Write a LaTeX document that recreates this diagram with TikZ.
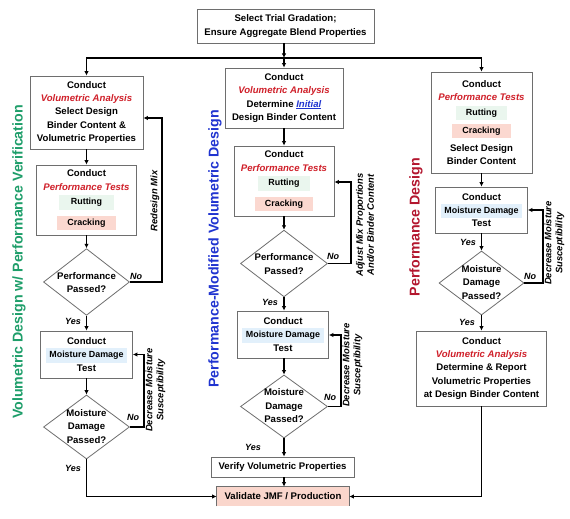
\documentclass[tikz,border=0pt]{standalone}
\usepackage{fontspec}
\setmainfont{Liberation Sans}
\usetikzlibrary{shapes.geometric,arrows.meta,calc}
\definecolor{boxgray}{HTML}{6E6E6E}
\definecolor{redtxt}{HTML}{D0202A}
\definecolor{bluetxt}{HTML}{2034D0}
\definecolor{greentitle}{HTML}{1E9E6A}
\definecolor{redtitle}{HTML}{B3162E}
\definecolor{rutbg}{HTML}{EAF6EE}
\definecolor{crkbg}{HTML}{FBD8D0}
\definecolor{moibg}{HTML}{E2F0FB}
\definecolor{valbg}{HTML}{FAD6CC}
\newcommand\hlb[3]{{\setlength\fboxsep{3pt}\colorbox{#1}{\fontsize{8.9}{10}\selectfont\hspace{#2}#3\hspace{#2}}}}
\newcommand\rd[1]{{\color{redtxt}\itshape #1}}
\newcommand\dtext[2]{\raisebox{#1}{\smash{\begin{tabular}{@{}c@{}}#2\end{tabular}}}}
\begin{document}
\begin{tikzpicture}[x=1pt,y=-1pt,
 box/.style={draw=boxgray,line width=0.8pt,align=center,inner sep=0pt,font=\bfseries\fontsize{9.6}{13.4}\selectfont,fill=white},
 dia/.style={diamond,draw=boxgray,line width=0.8pt,inner sep=0pt,font=\bfseries\fontsize{9.6}{13.4}\selectfont},
 conn/.style={line width=1.5pt,-{Latex[length=4.5pt,width=4.5pt]}},
 plain/.style={line width=1.5pt},
 yn/.style={font=\bfseries\itshape\fontsize{9}{10}\selectfont,inner sep=0pt},
 side/.style={font=\bfseries\itshape\fontsize{9.4}{11}\selectfont,rotate=90,align=center,inner sep=0pt},
 title/.style={font=\bfseries\fontsize{14.2}{16}\selectfont,rotate=90,inner sep=0pt}]
\useasboundingbox[fill=white] (0,0) rectangle (570,519);

% top
\node[box,minimum width=177pt,minimum height=34pt] (T) at (285.5,26) {Select Trial Gradation;\\Ensure Aggregate Blend Properties};

% left column
\node[box,minimum width=113pt,minimum height=73pt] (L1) at (86.5,112.5) {Conduct\\\rd{Volumetric Analysis}\\Select Design\\Binder Content \&\\Volumetric Properties};
\node[box,minimum width=100pt,minimum height=70pt] (L2) at (86.5,200) {Conduct\\\rd{Performance Tests}\\[1pt]\hlb{rutbg}{8.5pt}{Rutting}\\[5pt]\hlb{crkbg}{7pt}{Cracking}};
\node[dia,minimum width=86pt,minimum height=64pt] (D1) at (86.5,282) {\dtext{-8pt}{Performance\\Passed?}};
\node[box,minimum width=92pt,minimum height=47pt] (L3) at (86.5,354.5) {Conduct\\\hlb{moibg}{0.5pt}{Moisture Damage}\\Test};
\node[dia,minimum width=86pt,minimum height=64pt] (D2) at (86.5,427) {\dtext{-5pt}{Moisture\\Damage\\Passed?}};

% middle column
\node[box,minimum width=118pt,minimum height=60pt] (M1) at (284,98) {Conduct\\\rd{Volumetric Analysis}\\Determine {\color{bluetxt}\itshape\underline{Initial}}\\Design Binder Content};
\node[box,minimum width=100pt,minimum height=70pt] (M2) at (284,181) {Conduct\\\rd{Performance Tests}\\[1pt]\hlb{rutbg}{7pt}{Rutting}\\[5pt]\hlb{crkbg}{6.5pt}{Cracking}};
\node[dia,minimum width=87pt,minimum height=63pt] (DM1) at (284,263.5) {\dtext{-8pt}{Performance\\Passed?}};
\node[box,minimum width=91pt,minimum height=47pt] (M3) at (283,334.5) {Conduct\\\hlb{moibg}{0.5pt}{Moisture Damage}\\Test};
\node[dia,minimum width=87pt,minimum height=63pt] (DM2) at (284,406.5) {\dtext{-5pt}{Moisture\\Damage\\Passed?}};
\node[box,minimum width=143pt,minimum height=20pt] (V) at (282.5,467) {Verify Volumetric Properties};
\node[box,draw=none,fill=valbg,minimum width=132pt,minimum height=19pt] (J) at (283,496.5) {Validate JMF / Production};
\draw[draw=boxgray,line width=0.8pt] (J.south west) -- (J.north west) -- (J.north east) -- (J.south east);

% right column
\node[box,minimum width=101pt,minimum height=101pt] (R1) at (481.5,122.5) {Conduct\\\rd{Performance Tests}\\[1pt]\hlb{rutbg}{7pt}{Rutting}\\[3pt]\hlb{crkbg}{7pt}{Cracking}\\[4pt]Select Design\\Binder Content};
\node[box,minimum width=92pt,minimum height=46pt] (R2) at (481.5,210) {Conduct\\\hlb{moibg}{0.5pt}{Moisture Damage}\\Test};
\node[dia,minimum width=85pt,minimum height=64pt] (DR) at (481.5,283) {\dtext{-5pt}{Moisture\\Damage\\Passed?}};
\node[box,minimum width=130pt,minimum height=75pt] (R3) at (481.5,368.5) {Conduct\\\rd{Volumetric Analysis}\\Determine \& Report\\Volumetric Properties\\at Design Binder Content};

% top distribution
\coordinate (jM) at (284,58);
\draw[conn] (T.south -| jM) -- (jM);
\draw[conn] (jM) -- (M1.north);
\draw[conn] (jM) -| (L1.north);
\draw[conn] (jM) -| (R1.north);

% left flow
\draw[conn] (L1.south) -- (L2.north);
\draw[conn] (L2.south) -- (D1.north);
\draw[conn] (D1.south) -- (L3.north);
\draw[conn] (L3.south) -- (D2.north);
\coordinate (c1) at (162,118);
\draw[conn] (D1.east) -| (c1) -- (c1 -| L1.east);
\coordinate (c2) at (144,354.5);
\draw[conn] (D2.east) -| (c2) -- (c2 -| L3.east);
\draw[conn] (D2.south) |- (J.west);

% middle flow
\draw[conn] (M1.south) -- (M2.north);
\draw[conn] (M2.south) -- (DM1.north);
\draw[conn] (DM1.south) -- (DM1.south |- M3.north);
\draw[conn] (DM1.south |- M3.south) -- (DM2.north);
\coordinate (c3) at (351,182);
\draw[conn] (DM1.east) -| (c3) -- (c3 -| M2.east);
\coordinate (c4) at (341,335);
\draw[conn] (DM2.east) -| (c4) -- (c4 -| M3.east);
\draw[conn] (DM2.south) -- (DM2.south |- V.north);
\draw[conn] (DM2.south |- V.south) -- (DM2.south |- J.north);

% right flow
\draw[conn] (R1.south) -- (R2.north);
\draw[conn] (R2.south) -- (DR.north);
\draw[conn] (DR.south) -- (R3.north);
\coordinate (c5) at (543,210);
\draw[conn] (DR.east) -| (c5) -- (c5 -| R2.east);
\draw[conn] (R3.south) |- (J.east);

% yes / no
\node[yn] (n1) at (136,276) {No};
\node[yn] (y1) at (73,321) {Yes};
\node[yn] (n2) at (133,417) {No};
\node[yn] (y2) at (73,468) {Yes};
\node[yn] (n3) at (333,256) {No};
\node[yn] (y3) at (270,302) {Yes};
\node[yn] (n4) at (330,397) {No};
\node[yn] (y4) at (253,447) {Yes};
\node[yn] (y5) at (468,242) {Yes};
\node[yn] (n5) at (530,276) {No};
\node[yn] (y6) at (467,322) {Yes};

% side labels
\node[side] (s1) at (155,201) {Redesign Mix};
\node[side] (s2) at (155.5,390) {Decrease Moisture\\Susceptibility};
\node[side] (s3) at (365,225) {Adjust Mix Proportions\\And/or Binder Content};
\node[side] (s4) at (352.5,365) {Decrease Moisture\\Susceptibility};
\node[side] (s5) at (554.5,243) {Decrease Moisture\\Susceptibility};

% titles
\node[title,text=greentitle] (t1) at (19,262) {Volumetric Design w/ Performance Verification};
\node[title,text=bluetxt] (t2) at (215,249) {Performance-Modified Volumetric Design};
\node[title,text=redtitle] (t3) at (416,227) {Performance Design};
\end{tikzpicture}
\end{document}
